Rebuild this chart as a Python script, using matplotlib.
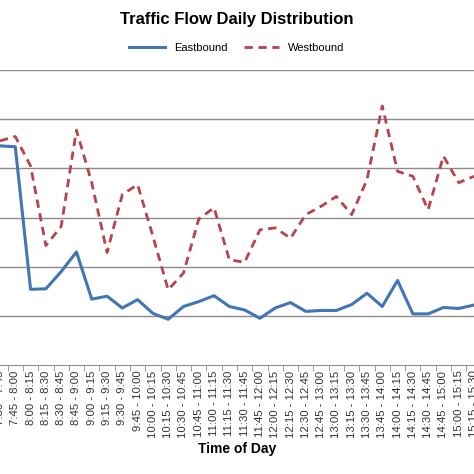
import numpy as np
import matplotlib.pyplot as plt

plt.rcParams['font.family'] = ['Liberation Sans', 'DejaVu Sans']

starts = ["7:30", "7:45", "8:00", "8:15", "8:30", "8:45", "9:00", "9:15", "9:30", "9:45",
          "10:00", "10:15", "10:30", "10:45", "11:00", "11:15", "11:30", "11:45", "12:00", "12:15",
          "12:30", "12:45", "13:00", "13:15", "13:30", "13:45", "14:00", "14:15", "14:30", "14:45",
          "15:00", "15:15", "15:30"]
labels = [f"{starts[i]} - {starts[i + 1]}" for i in range(len(starts) - 1)]

eastbound = [4.46, 4.44, 1.54, 1.55, 1.90, 2.30, 1.34, 1.40, 1.16, 1.33,
             1.05, 0.93, 1.19, 1.29, 1.41, 1.19, 1.12, 0.95, 1.16, 1.27,
             1.09, 1.11, 1.11, 1.23, 1.46, 1.19, 1.72, 1.04, 1.04, 1.17,
             1.15, 1.22]
westbound = [4.56, 4.65, 4.05, 2.43, 2.82, 4.78, 3.71, 2.29, 3.47, 3.67,
             2.62, 1.53, 1.87, 2.97, 3.20, 2.14, 2.09, 2.75, 2.79, 2.58,
             3.06, 3.23, 3.43, 3.06, 3.77, 5.27, 3.94, 3.84, 3.16, 4.25,
             3.71, 3.84]

fig = plt.figure(figsize=(4.74, 4.74), dpi=100)
ax = fig.add_axes([0, 0.23, 1, 0.622])
x = np.arange(len(labels))
ax.plot(x, eastbound, color='#4275b5', linewidth=2.2, label='Eastbound')
ax.plot(x, westbound, color='#b8434a', linewidth=2, linestyle=(0, (3, 2)), label='Westbound')

ax.set_xlim(0.1, 30.6)
ax.set_ylim(0, 6)
ax.set_yticks(np.arange(1, 7))
ax.yaxis.grid(True, color='#8c8c8c', linewidth=1)
ax.set_axisbelow(True)
ax.tick_params(axis='y', left=False, labelleft=False)
ax.set_xticks(x)
ax.set_xticklabels(labels, rotation=90, fontsize=8.2, color='#333333')
ax.set_xticks(x[:-1] + 0.5, minor=True)
ax.tick_params(axis='x', which='major', length=0, pad=4)
ax.tick_params(axis='x', which='minor', length=4, color='#8c8c8c')
for s in ['left', 'right', 'top']:
    ax.spines[s].set_visible(False)
ax.spines['bottom'].set_color('#8c8c8c')
ax.set_xlabel("Time of Day", fontsize=10, fontweight='bold', labelpad=3)

fig.text(0.5, 0.958, "Traffic Flow Daily Distribution", ha='center', va='center',
         fontsize=12, fontweight='bold')
ax.legend(loc='center', bbox_to_anchor=(0.5, 1.075), ncol=2, frameon=False,
          fontsize=8, handlelength=3.2, columnspacing=1.5)

fig.savefig("out.png", dpi=100)
